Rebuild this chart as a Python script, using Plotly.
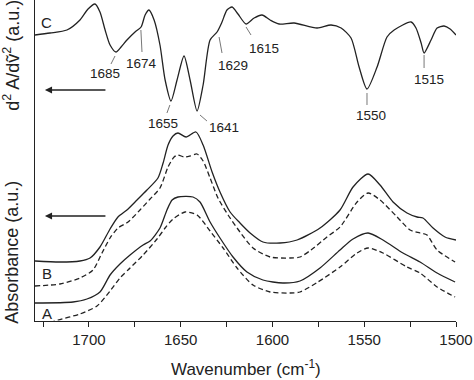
import plotly.graph_objects as go

# ---------------- data ----------------
# second-derivative spectrum (C)
c_wn = [1729.4, 1721.2, 1712.0, 1704.9, 1700.5, 1696.7, 1694.0, 1691.2, 1688.5, 1685.3,
        1682.5, 1679.3, 1674.9, 1671.6, 1669.4, 1667.3, 1664.5, 1661.3, 1658.5, 1655.3,
        1652.0, 1648.2, 1644.9, 1641.1, 1637.8, 1634.0, 1630.2, 1627.5, 1624.8, 1622.0,
        1618.8, 1614.4, 1610.0, 1605.7, 1601.3, 1596.4, 1588.2, 1575.7, 1568.1, 1562.6,
        1557.2, 1552.8, 1548.5, 1543.0, 1537.6, 1533.7, 1524.5, 1521.8, 1519.0, 1517.4,
        1513.6, 1510.3, 1506.5, 1503.2, 1500.0]
c_val = [286, 288, 291, 301, 312, 317, 309, 291, 276, 269,
         274, 281, 289, 294, 306, 311, 301, 276, 241, 220,
         241, 265, 241, 210, 236, 281, 289, 299, 311, 314,
         307, 297, 303, 306, 301, 297, 298, 293, 296, 293,
         283, 254, 232, 254, 284, 291, 299, 293, 278, 268,
         281, 293, 295, 292, 286]

# absorbance B (solid)
b_wn = [1729.4, 1715.8, 1704.9, 1699.4, 1694.0, 1688.5, 1684.2, 1679.3, 1673.8, 1668.4,
        1662.4, 1659.6, 1656.9, 1654.2, 1651.5, 1647.1, 1641.7, 1637.8, 1632.9, 1628.6,
        1623.1, 1617.7, 1612.2, 1605.2, 1595.9, 1586.6, 1574.1, 1563.2, 1556.1, 1547.9,
        1541.4, 1534.3, 1526.7, 1521.2, 1518.0, 1512.5, 1506.0, 1500.0]
b_val = [60, 59, 60, 63, 74, 92, 104, 111, 121, 131,
         143, 158, 176, 185, 188, 184, 189, 176, 149, 129,
         109, 98, 88, 79, 78, 81, 93, 111, 134, 147,
         136, 119, 108, 104, 103, 93, 84, 81]

# absorbance B (dashed)
bd_wn = [1729.4, 1715.8, 1704.9, 1697.8, 1692.9, 1688.5, 1684.2, 1678.7, 1672.2, 1666.7,
         1661.3, 1656.9, 1653.6, 1651.5, 1648.2, 1644.9, 1641.1, 1637.8, 1634.0, 1629.7,
         1624.2, 1617.7, 1610.6, 1601.3, 1590.4, 1585.0, 1579.0, 1570.3, 1563.2, 1553.9,
         1547.9, 1541.4, 1532.1, 1525.0, 1519.6, 1515.8, 1510.3, 1500.5]
bd_val = [35, 37, 43, 51, 68, 83, 93, 99, 111, 122,
          133, 154, 164, 166, 164, 165, 167, 160, 143, 123,
          106, 89, 73, 64, 63, 64, 71, 84, 94, 119,
          128, 121, 104, 91, 88, 86, 71, 59]

# absorbance A (solid)
a_wn = [1729.4, 1708.7, 1701.1, 1694.0, 1688.5, 1683.1, 1677.6, 1670.5, 1666.7, 1661.3,
        1657.5, 1654.7, 1651.5, 1643.3, 1639.5, 1634.0, 1628.6, 1621.5, 1613.9, 1605.2,
        1594.3, 1585.0, 1574.1, 1563.2, 1556.1, 1547.9, 1539.8, 1528.9, 1519.6, 1510.3,
        1500.5]
a_val = [18, 19, 22, 29, 46, 57, 66, 76, 80, 93,
         111, 121, 124, 124, 119, 99, 83, 64, 49, 41,
         38, 40, 53, 71, 82, 88, 81, 68, 59, 48,
         39]

# absorbance A (dashed)
ad_wn = [1729.4, 1716.9, 1704.9, 1695.6, 1688.5, 1683.1, 1677.6, 1670.5, 1662.9, 1658.5,
         1654.2, 1647.6, 1641.1, 1634.0, 1626.9, 1619.3, 1610.6, 1601.3, 1590.4, 1585.0,
         1575.2, 1563.2, 1553.9, 1547.9, 1539.8, 1526.7, 1519.6, 1510.3, 1500.5]
ad_val = [-7, 1, 7, 15, 30, 43, 53, 66, 82, 93,
          102, 109, 106, 90, 73, 53, 36, 29, 28, 29,
          39, 54, 68, 73, 68, 54, 48, 34, 24]

# band labels on curve C
band_text = ["1685", "1674", "1655", "1641", "1629", "1615", "1550", "1515"]
band_text_x = [1691.3, 1671.1, 1659.7, 1626.4, 1621.5, 1604.6, 1546.3, 1514.7]
band_text_y = [248, 258, 198, 194, 256, 273, 206, 242]
lead_x0 = [1685.8, 1671.7, 1655.9, 1639.5, 1629.1, 1614.4, 1548.5, 1517.4]
lead_y0 = [265, 291, 216, 206, 284, 294, 228, 266]
lead_x1 = [1688.0, 1671.1, 1657.5, 1635.7, 1627.5, 1611.7, 1548.5, 1517.4]
lead_y1 = [257, 269, 208, 200, 268, 286, 216, 253]

curve_letters = ["C", "B", "A"]
letter_x = [1722.9, 1722.9, 1722.9]
letter_y = [299, 48, 8]

arrow_tip_x = [1724.0, 1724.0]
arrow_tail_x = [1690.2, 1690.2]
arrow_y = [231, 105]

tick_vals = [1725, 1700, 1675, 1650, 1625, 1600, 1575, 1550, 1525, 1500]
tick_text = ["", "1700", "", "1650", "", "1600", "", "1550", "", "1500"]

# ---------------- figure ----------------
INK = "#222222"
FONT = "Liberation Sans, Arial, sans-serif"

fig = go.Figure()
line_kw = dict(color=INK, width=1.3, shape="spline", smoothing=0.7)
fig.add_trace(go.Scatter(x=c_wn, y=c_val, mode="lines", line=line_kw))
fig.add_trace(go.Scatter(x=b_wn, y=b_val, mode="lines", line=line_kw))
fig.add_trace(go.Scatter(x=bd_wn, y=bd_val, mode="lines", line=dict(line_kw, dash="5px,3px")))
fig.add_trace(go.Scatter(x=a_wn, y=a_val, mode="lines", line=line_kw))
fig.add_trace(go.Scatter(x=ad_wn, y=ad_val, mode="lines", line=dict(line_kw, dash="5px,3px")))

annotations = []
for t, x, y in zip(band_text, band_text_x, band_text_y):
    annotations.append(dict(x=x, y=y, text=t, showarrow=False, xanchor="center", yanchor="middle",
                            font=dict(family=FONT, size=13.5, color=INK)))
shapes = []
for x0, y0, x1, y1 in zip(lead_x0, lead_y0, lead_x1, lead_y1):
    shapes.append(dict(type="line", x0=x0, y0=y0, x1=x1, y1=y1, xref="x", yref="y",
                       line=dict(color="#777777", width=1)))
for t, x, y in zip(curve_letters, letter_x, letter_y):
    annotations.append(dict(x=x, y=y, text=t, showarrow=False, xanchor="center", yanchor="middle",
                            font=dict(family=FONT, size=15, color=INK)))
for xt, xa, y in zip(arrow_tip_x, arrow_tail_x, arrow_y):
    annotations.append(dict(x=xt, y=y, ax=xa, ay=y, axref="x", ayref="y", xref="x", yref="y",
                            text="", showarrow=True, arrowhead=2, arrowsize=1.1, arrowwidth=1.3,
                            arrowcolor=INK, standoff=0, startstandoff=0))

# axis titles
annotations.append(dict(xref="paper", yref="paper", x=-0.055, y=0.829, text="d<sup>2</sup> A/dṽ<sup>2</sup> (a.u.)",
                        textangle=-90, showarrow=False, xanchor="center", yanchor="middle",
                        font=dict(family=FONT, size=18, color=INK)))
annotations.append(dict(xref="paper", yref="paper", x=-0.055, y=0.215, text="Absorbance (a.u.)",
                        textangle=-90, showarrow=False, xanchor="center", yanchor="middle",
                        font=dict(family=FONT, size=18, color=INK)))
annotations.append(dict(xref="paper", yref="paper", x=0.502, y=-0.146, text="Wavenumber (cm<sup>-1</sup>)",
                        showarrow=False, xanchor="center", yanchor="middle",
                        font=dict(family=FONT, size=17, color=INK)))

fig.update_layout(
    width=474, height=380,
    margin=dict(l=35, r=18, t=0, b=59),
    paper_bgcolor="white", plot_bgcolor="white",
    showlegend=False,
    annotations=annotations, shapes=shapes,
    font=dict(family=FONT, color=INK),
    xaxis=dict(range=[1729.4, 1500], tickvals=tick_vals, ticktext=tick_text,
               ticks="outside", ticklen=5, tickwidth=1.2, tickcolor=INK,
               showline=True, linecolor=INK, linewidth=1.3, showgrid=False, zeroline=False,
               tickfont=dict(family=FONT, size=15, color=INK)),
    yaxis=dict(range=[0, 321], showticklabels=False, ticks="", showline=True,
               linecolor=INK, linewidth=1.3, showgrid=False, zeroline=False),
)

fig.write_html("out.html", config={"displayModeBar": False},
               post_script="document.body.style.margin='0';document.body.style.overflow='hidden';")
